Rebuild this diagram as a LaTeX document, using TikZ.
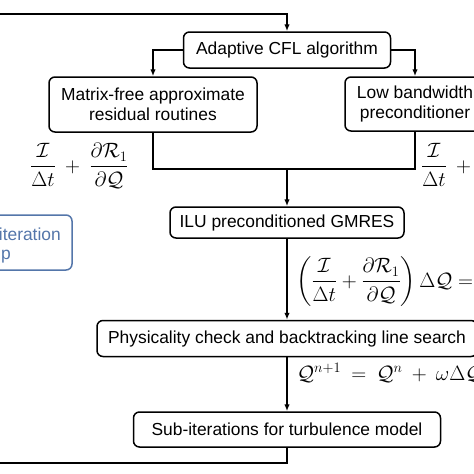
\documentclass[tikz,border=0pt]{standalone}
\usepackage[no-math]{fontspec}
\setmainfont{Liberation Sans}
\usepackage{amsmath}
\usetikzlibrary{arrows.meta,positioning}
\definecolor{loopblue}{RGB}{84,118,170}
\newcommand{\eqspread}{\medmuskip=8mu\relax\thickmuskip=9mu\relax}

\begin{document}
\begin{tikzpicture}[
  x=1pt, y=-1pt,
  font=\fontsize{17.4}{20}\selectfont,
  box/.style={draw, rounded corners=6pt, align=center, inner sep=0pt, line width=1.5pt, minimum height=36pt},
  eq/.style={inner sep=0pt, font=\fontsize{21}{25}\selectfont},
  wideeq/.style={eq, execute at begin node=\eqspread},
  arr/.style={-{Latex[length=7pt,width=5.5pt]}, line width=1.5pt},
  ln/.style={line width=1.5pt},
  looplab/.style={inner sep=0pt, text=loopblue}
]
\fill[white] (0,0) rectangle (474,474);
\useasboundingbox (0,0) rectangle (474,474);
\clip (0,0) rectangle (474,474);

\node[box, minimum width=207pt] (cfl) at (287,50) {Adaptive CFL algorithm};
\node[box, minimum width=208pt, minimum height=55pt] (matrix) at (153,104.5) {Matrix-free approximate\\residual routines};
\node[box, minimum width=140pt, minimum height=54pt] (lowbw) at (415,104) {Low bandwidth\\preconditioner};
\node[box, minimum width=234pt, minimum height=31pt] (ilu) at (287,222.5) {ILU preconditioned GMRES};
\node[box, minimum width=380pt, below=81pt of ilu] (phys) {Physicality check and backtracking line search};
\node[box, minimum width=307pt, minimum height=35pt, below=54pt of phys] (subit) {Sub-iterations for turbulence model};

% outer loop box, only its right end is in view
\node[box, draw=loopblue, minimum width=160pt, minimum height=55pt] (loop) at (-8,242.5) {};
\node[looplab, anchor=base east] (loopa) at (61,240) {iteration};
\node[looplab, anchor=base east] (loopb) at (11,259) {p};

\node[wideeq, anchor=base west] (jacl) at (30,172) {$\displaystyle\frac{\mathcal{I}}{\Delta t}+\frac{\partial\mathcal{R}_1}{\partial\mathcal{Q}}$};
\node[wideeq, anchor=base west] (jacr) at (421,172) {$\displaystyle\frac{\mathcal{I}}{\Delta t}+{}$};
\node[eq, anchor=base west] (linsys) at (296,287) {$\displaystyle\left(\frac{\mathcal{I}}{\Delta t}+\frac{\partial\mathcal{R}_1}{\partial\mathcal{Q}}\right)\Delta\mathcal{Q}=$};
\node[wideeq, anchor=base west] (update) at (297,380) {$\mathcal{Q}^{n+1}=\mathcal{Q}^{n}+\omega\Delta\mathcal{Q}$};

\coordinate (lb) at (-10,463);
\coordinate (lt) at (-10,14);
\coordinate (join) at (287,169);

\draw[arr] (subit.south) |- (lb) -- (lt) -| (cfl.north);
\draw[arr] (cfl.west) -| (matrix.north);
\draw[arr] (cfl.east) -| (lowbw.north);
\draw[ln] (matrix.south) |- (join) -| (lowbw.south);
\draw[arr] (join) -- (ilu.north);
\draw[arr] (ilu) -- (phys);
\draw[arr] (phys) -- (subit);
\end{tikzpicture}
\end{document}
